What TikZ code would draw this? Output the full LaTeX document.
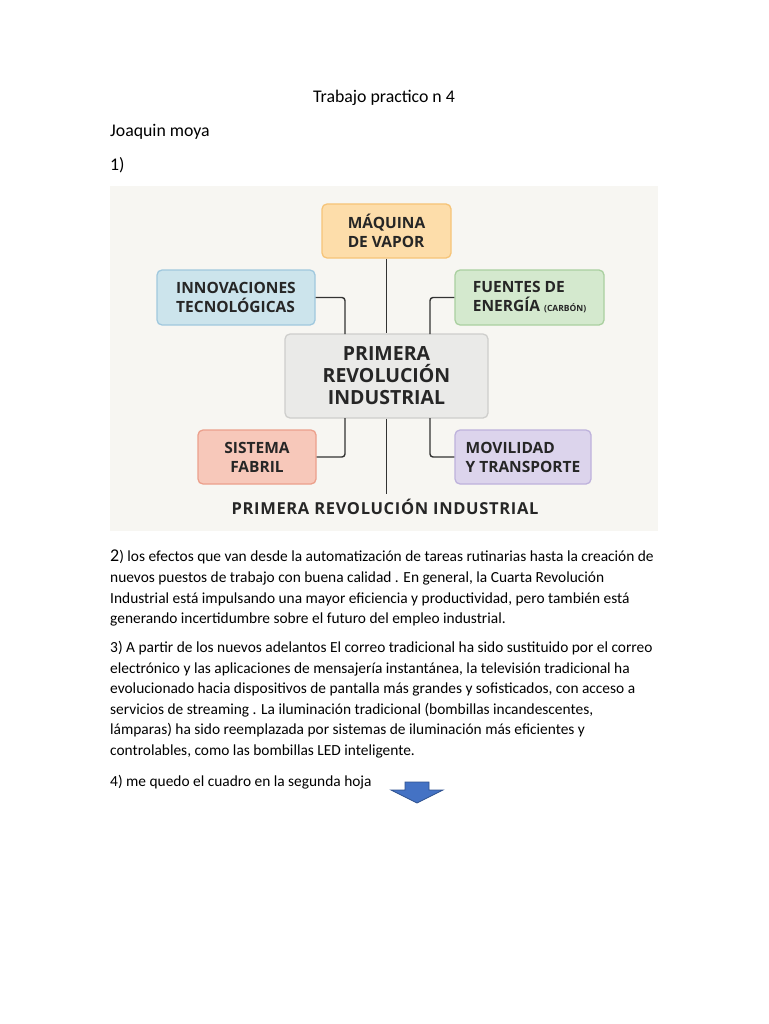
\documentclass[tikz,border=0pt]{standalone}
\usepackage{fontspec}
\setmainfont{Carlito}
\newfontfamily\dfont{Open Sans}
\newfontfamily\dfontw[LetterSpace=4]{Open Sans}
\begin{document}
\begin{tikzpicture}[x=1pt,y=-1pt,
 box/.style={draw, rounded corners=5pt, line width=1.3pt, align=left, font=\dfont\bfseries\fontsize{15.5}{19}\selectfont, text=black!85, inner sep=0pt},
 conn/.style={line width=1.4pt, draw=black!80},
 body/.style={anchor=base west, inner sep=0pt, font=\fontsize{15.4}{16}\selectfont}]
\useasboundingbox (0,0) rectangle (768,1024);
\fill[white] (0,0) rectangle (768,1024);
\node[anchor=base, inner sep=0pt, font=\fontsize{17.8}{18}\selectfont] (t) at (384,103) {Trabajo practico n 4};
\node[anchor=base west, inner sep=0pt, font=\fontsize{17.8}{18}\selectfont] (a) at (110,137) {Joaquin moya};
\node[anchor=base west, inner sep=0pt, font=\fontsize{17.8}{18}\selectfont] (one) at (110,171) {1)};
\fill[fill={rgb,255:red,247;green,246;blue,242}] (110,186) rectangle (658,531);
\node[box, fill={rgb,255:red,253;green,221;blue,170}, draw={rgb,255:red,246;green,196;blue,120}, minimum width=129, minimum height=54] (maq) at (386.5,231) {MÁQUINA\\DE VAPOR};
\node[box, fill={rgb,255:red,204;green,228;blue,236}, draw={rgb,255:red,160;green,200;blue,222}, minimum width=158, minimum height=55] (inn) at (236,297.5) {INNOVACIONES\\TECNOLÓGICAS};
\node[box, fill={rgb,255:red,212;green,233;blue,206}, draw={rgb,255:red,170;green,208;blue,160}, minimum width=149, minimum height=55] (fue) at (529.5,297.5) {FUENTES DE\\ENERGÍA {\fontsize{8.5}{9}\selectfont(CARBÓN)}};
\node[box, align=center, fill={rgb,255:red,234;green,234;blue,232}, draw={rgb,255:red,206;green,206;blue,204}, minimum width=203, minimum height=84, font=\dfont\bfseries\fontsize{19.5}{22}\selectfont] (cen) at (386.5,376) {PRIMERA\\REVOLUCIÓN\\INDUSTRIAL};
\node[box, align=center, fill={rgb,255:red,247;green,200;blue,186}, draw={rgb,255:red,236;green,160;blue,140}, minimum width=118, minimum height=54] (sis) at (257,457) {SISTEMA\\FABRIL};
\node[box, fill={rgb,255:red,220;green,212;blue,236}, draw={rgb,255:red,190;green,178;blue,220}, minimum width=136, minimum height=54] (mov) at (523,457) {MOVILIDAD\\Y TRANSPORTE};
\coordinate (bot) at (386.5,494);
\node[anchor=base, inner sep=0pt, font=\dfontw\bfseries\fontsize{16.5}{18}\selectfont, text=black!85] (cap) at (385,514) {PRIMERA REVOLUCIÓN INDUSTRIAL};
\draw[conn] (maq.south) -- (cen.north);
\draw[conn] (cen.south) -- (bot);
\draw[conn, rounded corners=3pt] (inn.east) -- (345,297.5) -- (345,334);
\draw[conn, rounded corners=3pt] (fue.west) -- (430,297.5) -- (430,334);
\draw[conn, rounded corners=3pt] (345,418) -- (345,457) -- (sis.east);
\draw[conn, rounded corners=3pt] (430,418) -- (430,457) -- (mov.west);
\node[body] (p1) at (110,561) {{\fontsize{18}{16}\selectfont 2}) los efectos que van desde la automatización de tareas rutinarias hasta la creación de};
\node[body] (p2) at (110,582) {nuevos puestos de trabajo con buena calidad . En general, la Cuarta Revolución};
\node[body] (p3) at (110,603) {Industrial está impulsando una mayor eficiencia y productividad, pero también está};
\node[body] (p4) at (110,623) {generando incertidumbre sobre el futuro del empleo industrial.};
\node[body] (q1) at (110,652) {3) A partir de los nuevos adelantos El correo tradicional ha sido sustituido por el correo};
\node[body] (q2) at (110,673) {electrónico y las aplicaciones de mensajería instantánea, la televisión tradicional ha};
\node[body] (q3) at (110,693) {evolucionado hacia dispositivos de pantalla más grandes y sofisticados, con acceso a};
\node[body] (q4) at (110,714) {servicios de streaming . La iluminación tradicional (bombillas incandescentes,};
\node[body] (q5) at (110,734) {lámparas) ha sido reemplazada por sistemas de iluminación más eficientes y};
\node[body] (q6) at (110,755) {controlables, como las bombillas LED inteligente.};
\node[body] (r1) at (110,786) {4) me quedo el cuadro en la segunda hoja};
\draw[fill={rgb,255:red,68;green,114;blue,196}, draw={rgb,255:red,47;green,82;blue,143}, line width=0.8pt]
 (405,782) -- (429,782) -- (429,790) -- (443,790) -- (417,803) -- (391,790) -- (405,790) -- cycle;
\end{tikzpicture}
\end{document}
